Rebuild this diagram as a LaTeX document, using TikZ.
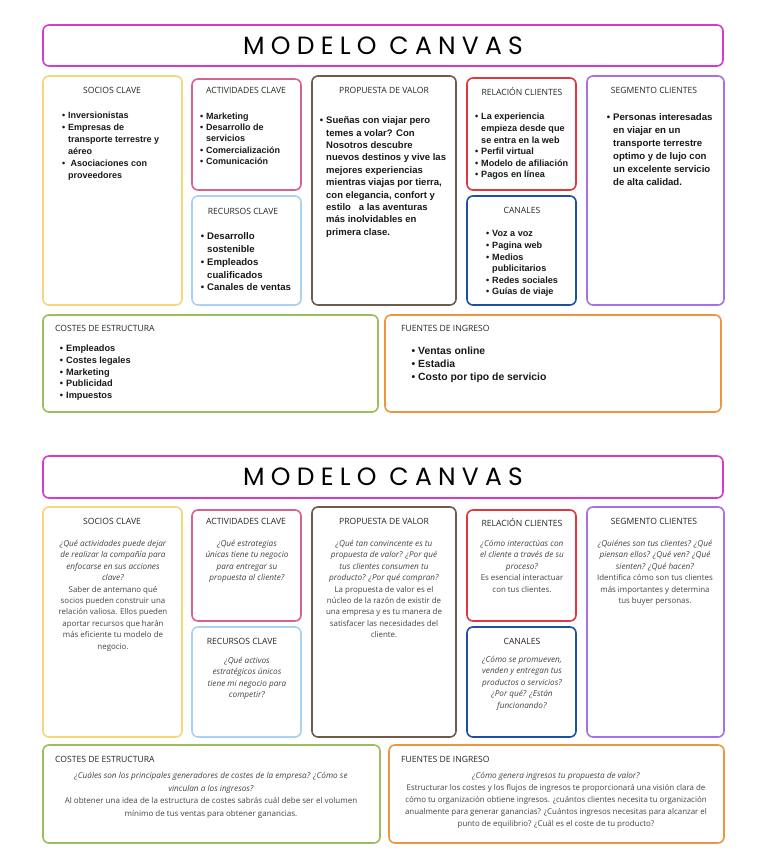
\documentclass[tikz,border=0pt]{standalone}
\usepackage{fontspec}
\setmainfont{Open Sans}
\newfontfamily\titlefont[LetterSpace=25]{Poppins}
\newfontfamily\lsfont{Liberation Sans}
\newcommand\bl[1]{\par\noindent\hangindent=10pt\hangafter=1\hbox to 10pt{\hss\textbullet\hskip3pt}#1\par}
\newcommand\qi[1]{\textit{\fontsize{8.2}{11.4}\selectfont #1}}
\definecolor{cT}{HTML}{D63BD1}
\definecolor{cY}{HTML}{F5D67A}
\definecolor{cP}{HTML}{D6628E}
\definecolor{cL}{HTML}{A9D2F2}
\definecolor{cB}{HTML}{705A48}
\definecolor{cR}{HTML}{E0373C}
\definecolor{cD}{HTML}{1E4FA3}
\definecolor{cV}{HTML}{A571E8}
\definecolor{cG}{HTML}{9CBE5A}
\definecolor{cO}{HTML}{EE9540}
\definecolor{gt}{HTML}{444444}
\tikzset{x=1pt,y=-1pt,
 bx/.style={draw=#1,line width=1.6pt,rounded corners=6pt},
 hd/.style={font=\fontsize{8.6}{9}\selectfont,anchor=north,inner sep=0pt,text=black!85},
 ls/.style={font=\lsfont\bfseries\fontsize{9}{12}\selectfont,anchor=north west,align=flush left,inner sep=0pt,text=black!90},
 qs/.style={font=\fontsize{7.9}{11.4}\selectfont,text=gt,anchor=north,align=flush center,inner sep=0pt},
 tt/.style={font=\titlefont\fontsize{25}{26}\selectfont,inner sep=0pt,text=black}}
\begin{document}
\hyphenpenalty=10000 \exhyphenpenalty=10000
\begin{tikzpicture}
\useasboundingbox (0,0) rectangle (768,862);
\fill[white] (0,0) rectangle (768,862);
% ===== top canvas
\draw[bx=cT] (43,25) rectangle (723,66);
\node[tt] (t1) at (383,46) {MODELO CANVAS};
\draw[bx=cY] (43,76) rectangle (182,305);
\draw[bx=cP] (192,79) rectangle (301,190);
\draw[bx=cL] (192,196) rectangle (301,305);
\draw[bx=cB] (312,76) rectangle (456,305);
\draw[bx=cR] (467,78) rectangle (576,190);
\draw[bx=cD] (467,196) rectangle (576,305);
\draw[bx=cV] (587,76) rectangle (724,305);
\draw[bx=cG] (43,315) rectangle (378,412);
\draw[bx=cO] (385,315) rectangle (721,412);
\node[hd] (h1) at (112,87) {SOCIOS CLAVE};
\node[hd] (h2) at (246,87) {ACTIVIDADES CLAVE};
\node[hd] (h3) at (243,208) {RECURSOS CLAVE};
\node[hd] (h4) at (384,87) {PROPUESTA DE VALOR};
\node[hd] (h5) at (522,87) {RELACIÓN CLIENTES};
\node[hd] (h6) at (522,207) {CANALES};
\node[hd] (h7) at (654,87) {SEGMENTO CLIENTES};
\node[hd,anchor=north west] (h8) at (55,325) {COSTES DE ESTRUCTURA};
\node[hd,anchor=north west] (h9) at (401,325) {FUENTES DE INGRESO};
\node[ls,text width=112pt] (l1) at (58,106) {\bl{Inversionistas}\bl{Empresas de transporte terrestre y aéreo}\bl{\ Asociaciones con proveedores}};
\node[ls,text width=100pt,font=\lsfont\bfseries\fontsize{9}{11.2}\selectfont] (l2) at (196,108) {\bl{Marketing}\bl{Desarrollo de servicios}\bl{Comercialización}\bl{Comunicación}};
\node[ls,text width=95pt,font=\lsfont\bfseries\fontsize{9.6}{12.7}\selectfont] (l3) at (197,227) {\bl{Desarrollo sostenible}\bl{Empleados cualificados}\bl{Canales de ventas}};
\node[ls,text width=132pt,font=\lsfont\bfseries\fontsize{9.5}{12.4}\selectfont] (l4) at (316,111) {\bl{Sueñas con viajar pero temes a volar? Con Nosotros descubre nuevos destinos y vive las mejores experiencias mientras viajas por tierra, con elegancia, confort y estilo \ \ a las aventuras más inolvidables en primera clase.}};
\node[ls,text width=100pt,font=\lsfont\bfseries\fontsize{9.1}{11.6}\selectfont] (l5) at (471,108) {\bl{La experiencia empieza desde que se entra en la web}\bl{Perfil virtual}\bl{Modelo de afiliación}\bl{Pagos en línea}};
\node[ls,text width=90pt,font=\lsfont\bfseries\fontsize{9.1}{11.6}\selectfont] (l6) at (482,225) {\bl{Voz a voz}\bl{Pagina web}\bl{Medios publicitarios}\bl{Redes sociales}\bl{Guías de viaje}};
\node[ls,text width=112pt,font=\lsfont\bfseries\fontsize{9.6}{13}\selectfont] (l7) at (603,107) {\bl{Personas interesadas en viajar en un transporte terrestre optimo y de lujo con un excelente servicio de alta calidad.}};
\node[ls,text width=120pt,font=\lsfont\bfseries\fontsize{9.2}{11.6}\selectfont] (l8) at (56,340) {\bl{Empleados}\bl{Costes legales}\bl{Marketing}\bl{Publicidad}\bl{Impuestos}};
\node[ls,text width=200pt,font=\lsfont\bfseries\fontsize{10.4}{13}\selectfont] (l9) at (408,341) {\bl{Ventas online}\bl{Estadia}\bl{Costo por tipo de servicio}};
% ===== bottom canvas
\draw[bx=cT] (43,456) rectangle (723,498);
\node[tt] (t2) at (383,477) {MODELO CANVAS};
\draw[bx=cY] (43,507) rectangle (182,737);
\draw[bx=cP] (192,510) rectangle (301,621);
\draw[bx=cL] (192,627) rectangle (301,737);
\draw[bx=cB] (312,507) rectangle (456,737);
\draw[bx=cR] (467,510) rectangle (576,621);
\draw[bx=cD] (467,627) rectangle (576,737);
\draw[bx=cV] (587,507) rectangle (724,737);
\draw[bx=cG] (43,745) rectangle (380,843);
\draw[bx=cO] (389,745) rectangle (724,843);
\node[hd] (k1) at (112,518) {SOCIOS CLAVE};
\node[hd] (k2) at (246,518) {ACTIVIDADES CLAVE};
\node[hd] (k3) at (242,638) {RECURSOS CLAVE};
\node[hd] (k4) at (384,518) {PROPUESTA DE VALOR};
\node[hd] (k5) at (522,518) {RELACIÓN CLIENTES};
\node[hd] (k6) at (522,638) {CANALES};
\node[hd] (k7) at (654,518) {SEGMENTO CLIENTES};
\node[hd,anchor=north west] (k8) at (55,756) {COSTES DE ESTRUCTURA};
\node[hd,anchor=north west] (k9) at (401,756) {FUENTES DE INGRESO};
\node[qs,text width=112pt] (q1) at (113,540) {\qi{¿Qué actividades puede dejar de realizar la compañía para enfocarse en sus acciones clave?}\\Saber de antemano qué socios pueden construir una relación valiosa. Ellos pueden aportar recursos que harán más eficiente tu modelo de negocio.};
\node[qs,text width=84pt] (q2) at (247,540) {\qi{¿Qué estrategias únicas tiene tu negocio para entregar su propuesta al cliente?}};
\node[qs,text width=84pt] (q3) at (247,657) {\qi{¿Qué activos estratégicos únicos tiene mi negocio para competir?}};
\node[qs,text width=116pt] (q4) at (384,540) {\qi{¿Qué tan convincente es tu propuesta de valor? ¿Por qué tus clientes consumen tu producto? ¿Por qué compran?}\\La propuesta de valor es el núcleo de la razón de existir de una empresa y es tu manera de satisfacer las necesidades del cliente.};
\node[qs,text width=88pt] (q5) at (522,540) {\qi{¿Cómo interactúas con el cliente a través de su proceso?}\\Es esencial interactuar con tus clientes.};
\node[qs,text width=90pt] (q6) at (522,656) {\qi{¿Cómo se promueven, venden y entregan tus productos o servicios? ¿Por qué? ¿Están funcionando?}};
\node[qs,text width=116pt] (q7) at (655,540) {\qi{¿Quiénes son tus clientes? ¿Qué piensan ellos? ¿Qué ven? ¿Qué sienten? ¿Qué hacen?}\\Identifica cómo son tus clientes más importantes y determina tus buyer personas.};
\node[qs,text width=300pt,font=\fontsize{8}{12.6}\selectfont] (q8) at (211,772) {\qi{¿Cuáles son los principales generadores de costes de la empresa? ¿Cómo se vinculan a los ingresos?}\\Al obtener una idea de la estructura de costes sabrás cuál debe ser el volumen mínimo de tus ventas para obtener ganancias.};
\node[qs,text width=318pt,font=\fontsize{7.9}{12}\selectfont] (q9) at (556,772) {\qi{¿Cómo genera ingresos tu propuesta de valor?}\\Estructurar los costes y los flujos de ingresos te proporcionará una visión clara de cómo tu organización obtiene ingresos. ¿cuántos clientes necesita tu organización anualmente para generar ganancias? ¿Cuántos ingresos necesitas para alcanzar el punto de equilibrio? ¿Cuál es el coste de tu producto?};
\end{tikzpicture}
\end{document}
